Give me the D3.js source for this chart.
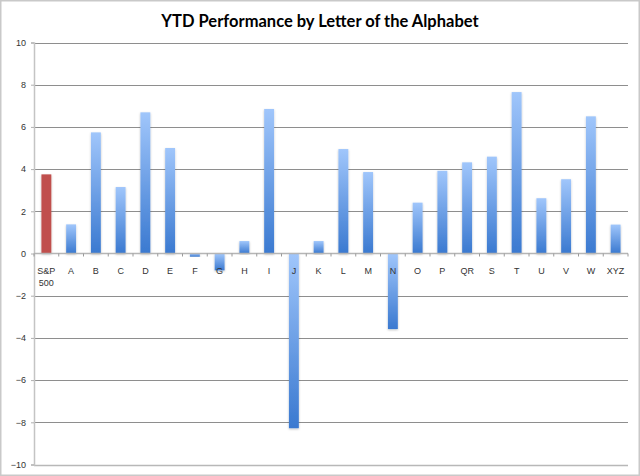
<!DOCTYPE html>
<html>
<head>
<meta charset="utf-8">
<script src="https://cdn.jsdelivr.net/npm/d3@7"></script>
<style>
  body { margin: 0; background: #fff; }
  svg { display: block; }
</style>
</head>
<body>
<div id="chart"></div>
<script>
// data
const categories = ["S&P 500", "A", "B", "C", "D", "E", "F", "G", "H", "I", "J", "K",
    "L", "M", "N", "O", "P", "QR", "S", "T", "U", "V", "W", "XYZ"];
const values = [3.75, 1.38, 5.74, 3.15, 6.69, 5.0, -0.15, -0.8, 0.59, 6.85, -8.28, 0.59,
    4.95, 3.86, -3.58, 2.41, 3.92, 4.32, 4.59, 7.65, 2.62, 3.52, 6.5, 1.37];
const yTicks = [-10, -8, -6, -4, -2, 0, 2, 4, 6, 8, 10];
const benchmark = "S&P 500";

const width = 640, height = 476;
const margin = { top: 42.5, right: 12, bottom: 11.5, left: 34 };

const svg = d3.select("#chart").append("svg")
    .attr("width", width)
    .attr("height", height);

// outer frame
svg.append("rect")
    .attr("x", 0.75).attr("y", 0.75)
    .attr("width", width - 1.5).attr("height", height - 1.5)
    .attr("fill", "#fff")
    .attr("stroke", "#c9c9c9")
    .attr("stroke-width", 1.5);

const defs = svg.append("defs");
const grad = defs.append("linearGradient")
    .attr("id", "blueGrad")
    .attr("x1", 0).attr("y1", 0).attr("x2", 0).attr("y2", 1);
grad.append("stop").attr("offset", "0%").attr("stop-color", "#a0c6fb");
grad.append("stop").attr("offset", "100%").attr("stop-color", "#3a79d0");

const shadow = defs.append("filter").attr("id", "shadow")
    .attr("x", "-50%").attr("y", "-10%").attr("width", "200%").attr("height", "120%");
shadow.append("feDropShadow")
    .attr("dx", 0).attr("dy", 1).attr("stdDeviation", 0.8)
    .attr("flood-color", "#000").attr("flood-opacity", 0.25);

const x = d3.scaleBand()
    .domain(categories)
    .range([margin.left, width - margin.right])
    .paddingInner(0.6)
    .paddingOuter(0.3);

const y = d3.scaleLinear()
    .domain([-10, 10])
    .range([height - margin.bottom, margin.top]);

// title
svg.append("text")
    .attr("x", width / 2)
    .attr("y", 27)
    .attr("text-anchor", "middle")
    .style("font-family", "Lato, 'Open Sans', sans-serif")
    .style("font-weight", "bold")
    .style("font-size", "16.5px")
    .attr("fill", "#000")
    .text("YTD Performance by Letter of the Alphabet");

// gridlines
svg.append("g")
    .selectAll("line")
    .data(yTicks.filter(d => d !== 0))
    .join("line")
    .attr("x1", margin.left)
    .attr("x2", width - margin.right)
    .attr("y1", d => Math.round(y(d)) + 0.5)
    .attr("y2", d => Math.round(y(d)) + 0.5)
    .attr("stroke", d => d === -10 ? "#b8b8b8" : "#8e8e8e")
    .attr("stroke-width", d => d === -10 ? 1.5 : 1);

// y axis
const yAxis = d3.axisLeft(y)
    .tickValues(yTicks)
    .tickSize(3)
    .tickPadding(5)
    .tickFormat(d3.format("d"));

const yAxisGroup = svg.append("g")
    .attr("transform", `translate(${margin.left},0)`)
    .call(yAxis);
yAxisGroup.select(".domain").attr("stroke", "#c4c4c4").attr("stroke-width", 1.5);
yAxisGroup.selectAll(".tick line").attr("stroke", "#b0b0b0");
yAxisGroup.selectAll(".tick text")
    .style("font-family", "'Liberation Sans', Arial, sans-serif")
    .style("font-size", "9px")
    .attr("fill", "#333");

// bars
svg.append("g")
    .selectAll("rect")
    .data(categories.map((c, i) => ({ cat: c, val: values[i] })))
    .join("rect")
    .attr("x", d => x(d.cat))
    .attr("width", x.bandwidth())
    .attr("y", d => y(Math.max(0, d.val)))
    .attr("height", d => Math.abs(y(d.val) - y(0)))
    .attr("fill", d => d.cat === benchmark ? "#c0504d" : "url(#blueGrad)")
    .attr("filter", "url(#shadow)");

// x axis at zero, ticks between categories
const boundaries = d3.range(categories.length + 1).map(i => margin.left + i * (width - margin.left - margin.right) / categories.length);

const xAxisGroup = svg.append("g");
xAxisGroup.append("line")
    .attr("x1", margin.left)
    .attr("x2", width - margin.right)
    .attr("y1", y(0))
    .attr("y2", y(0))
    .attr("stroke", "#b5b5b5")
    .attr("stroke-width", 1.5);
xAxisGroup.selectAll(".xtick")
    .data(boundaries)
    .join("line")
    .attr("class", "xtick")
    .attr("x1", d => d).attr("x2", d => d)
    .attr("y1", y(0)).attr("y2", y(0) + 3)
    .attr("stroke", "#9a9a9a");

const labels = xAxisGroup.selectAll(".xlabel")
    .data(categories)
    .join("text")
    .attr("class", "xlabel")
    .attr("x", d => x(d) + x.bandwidth() / 2)
    .attr("y", y(0) + 20)
    .attr("text-anchor", "middle")
    .style("font-family", "'Liberation Sans', Arial, sans-serif")
    .style("font-size", "9px")
    .attr("fill", "#333");

labels.each(function (d) {
    const parts = d.split(" ");
    d3.select(this).selectAll("tspan")
        .data(parts)
        .join("tspan")
        .attr("x", x(d) + x.bandwidth() / 2)
        .attr("dy", (p, i) => i === 0 ? 0 : 12)
        .text(p => p);
});
</script>
</body>
</html>
